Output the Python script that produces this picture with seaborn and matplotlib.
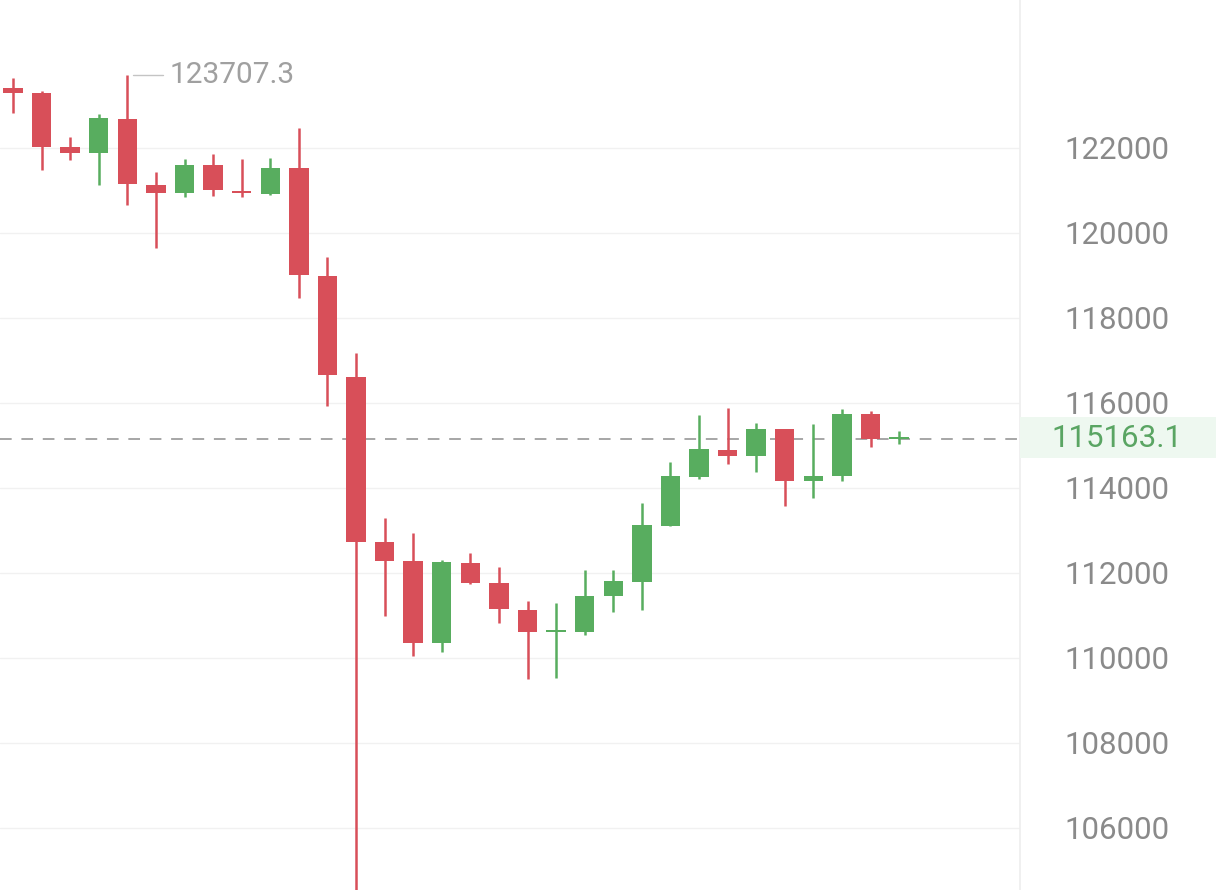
import numpy as np
import matplotlib
matplotlib.use("Agg")
import matplotlib.pyplot as plt
import matplotlib.transforms as mtransforms
from matplotlib.patches import Rectangle
import seaborn as sns

# OHLC values (one per candle, left to right)
opens = [123420, 123290, 122030, 121890, 122680, 121130, 120930, 121600,
         120990, 120920, 121540, 118990, 116620, 112740, 112290, 110350,
         112240, 111760, 111130, 110620, 110620, 111460, 111780, 113110,
         114270, 114890, 114750, 115380, 114170, 114280, 115740, 115150]
highs = [123650, 123330, 122270, 122800, 123707.3, 121440, 121740, 121850,
         121740, 121760, 122480, 119430, 117170, 113290, 112950, 112310,
         112460, 112150, 111330, 111300, 112070, 112070, 113650, 114620,
         115720, 115890, 115520, 115390, 115510, 115850, 115820, 115350]
lows = [122820, 121480, 121720, 121130, 120660, 119640, 120840, 120870,
        120850, 120900, 118460, 115930, 104000, 110990, 110050, 110130,
        111750, 110820, 109500, 109520, 110540, 111080, 111130, 113110,
        114200, 114560, 114370, 113580, 113760, 114170, 114960, 115040]
closes = [123290, 122030, 121890, 122700, 121150, 120950, 121600, 121010,
          120930, 121540, 119010, 116650, 112740, 112290, 110360, 112250,
          111760, 111150, 110600, 110660, 111460, 111800, 113130, 114280,
          114910, 114760, 115380, 114170, 114290, 115740, 115150, 115163.1]
yticks = [106000, 108000, 110000, 112000, 114000, 116000, 118000, 120000, 122000]
last_price = 115163.1
max_high = 123707.3

sns.set_style("white")
plt.rcParams['font.family'] = ['Roboto', 'DejaVu Sans']

RED = '#d84f59'
GREEN = '#58ad5f'

fig = plt.figure(figsize=(12.16, 8.9), dpi=100)
ax = fig.add_axes([0, 0, 1020 / 1216, 1])

x = np.arange(len(opens))
o = np.array(opens); c = np.array(closes)
h = np.array(highs); l = np.array(lows)
up = c >= o
colors = np.where(up, GREEN, RED)

ax.vlines(x, l, h, colors=colors, lw=1.8, zorder=3)
body_bot = np.minimum(o, c)
body_h = np.maximum(np.abs(c - o), 50)
ax.bar(x, body_h, bottom=body_bot, width=0.68, color=colors, zorder=4,
       linewidth=0)

ax.set_xlim(-0.455, 35.23)
ax.set_ylim(104541, 125482)

# current price dashed line
ax.axhline(last_price, color='#a6a6a6', lw=1.4, ls=(0, (6, 5)), zorder=2)

# y axis on the right
ax.yaxis.tick_right()
ax.set_yticks(yticks)
ax.set_yticklabels([str(t) for t in yticks])
ax.tick_params(axis='y', length=0, pad=70, labelsize=22.5, labelcolor='#8a8a8a')
for lab in ax.get_yticklabels():
    lab.set_horizontalalignment('center')
ax.set_xticks([])
ax.grid(axis='y', color='#f1f1f1', lw=1)
for side in ['top', 'left', 'bottom']:
    ax.spines[side].set_visible(False)
ax.spines['right'].set_color('#eeeeee')
ax.spines['right'].set_linewidth(1.2)

# last price tag in the right margin
trans = mtransforms.blended_transform_factory(ax.transAxes, ax.transData)
ax.add_patch(Rectangle((1.0, 114706), 196 / 1020, 965, transform=trans,
                       facecolor='#eef8f0', edgecolor='none', clip_on=False,
                       zorder=5))
ax.text(1 + 97 / 1020, last_price, f"{last_price:.1f}", transform=trans,
        ha='center', va='center', fontsize=22.5, color='#5aa563', zorder=6,
        clip_on=False)

# max high annotation
imax = int(np.argmax(h))
ax.plot([imax + 0.2, imax + 1.25], [max_high, max_high], color='#c4c4c4',
        lw=1, zorder=3)
ax.text(imax + 1.47, max_high, f"{max_high:.1f}", ha='left', va='center',
        fontsize=21.5, color='#a0a0a0', zorder=6)

plt.savefig('out.png', dpi=100)
